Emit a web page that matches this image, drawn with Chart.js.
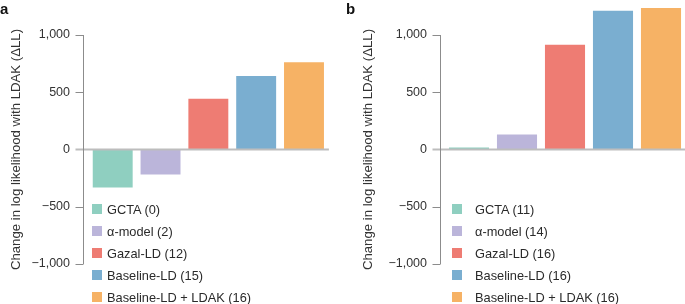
<!DOCTYPE html>
<html>
<head>
<meta charset="utf-8">
<script src="https://cdn.jsdelivr.net/npm/chart.js@4/dist/chart.umd.min.js"></script>
<style>
  body { margin: 0; background: #fff; font-family: 'Liberation Sans', Arial, sans-serif; }
  #wrap { position: relative; width: 685px; height: 304px; overflow: hidden; }
  canvas { position: absolute; top: 0; }
  .panel-label { position: absolute; font-weight: bold; font-size: 15px; color: #111; }
  .legend { position: absolute; font-size: 12.8px; color: #2a2a2a; }
</style>
</head>
<body>
<div id="wrap">
  <canvas id="chartA" width="340" height="304" style="left:0"></canvas>
  <canvas id="chartB" width="345" height="304" style="left:340px"></canvas>
  <div class="panel-label" style="left:0px;top:0px">a</div>
  <div class="panel-label" style="left:346px;top:0px">b</div>
  <div id="legendA" class="legend" style="left:92px;top:198.5px"></div>
  <div id="legendB" class="legend" style="left:452px;top:198.5px"></div>
</div>
<script>
// данные
const categories = ['GCTA', 'α-model', 'Gazal-LD', 'Baseline-LD', 'Baseline-LD + LDAK'];
const countsA = [0, 2, 12, 15, 16];
const countsB = [11, 14, 16, 16, 16];
const valuesA = [-332, -218, 443, 643, 762];
const valuesB = [17, 131, 914, 1211, 1235];
const yTicks = [-1000, -500, 0, 500, 1000];
const colors = ['#8fcfc0', '#bbb5da', '#ee7c73', '#7aaed0', '#f6b265'];

const FONT = "'Liberation Sans', Arial, sans-serif";

// ось Y, риски и нулевая линия
const axisPlugin = {
  id: 'axisLine',
  afterDatasetsDraw(chart, args, opts) {
    const { ctx, chartArea, scales: { y } } = chart;
    const ax = Math.round(chartArea.left - opts.gap) + 0.5;
    ctx.save();
    const y0 = y.getPixelForValue(0);
    ctx.strokeStyle = '#bdbdbd';
    ctx.lineWidth = 2;
    ctx.beginPath();
    ctx.moveTo(ax - 8, y0);
    ctx.lineTo(chartArea.right + 1, y0);
    ctx.stroke();

    ctx.strokeStyle = '#8c8c8c';
    ctx.lineWidth = 1;
    ctx.beginPath();
    ctx.moveTo(ax, y.getPixelForValue(yTicks[0]));
    ctx.lineTo(ax, y.getPixelForValue(yTicks[yTicks.length - 1]));
    y.ticks.forEach((t) => {
      if (t.value === 0) return;
      const py = Math.round(y.getPixelForValue(t.value)) + 0.5;
      ctx.moveTo(ax - 8, py);
      ctx.lineTo(ax, py);
    });
    ctx.stroke();
    ctx.restore();
  },
};

function createLegend(legendId, counts, gap) {
  const box = document.getElementById(legendId);
  categories.forEach((name, i) => {
    const row = document.createElement('div');
    row.style.display = 'flex';
    row.style.alignItems = 'center';
    row.style.height = '21.9px';

    const sq = document.createElement('span');
    sq.style.display = 'inline-block';
    sq.style.width = '10px';
    sq.style.height = '10px';
    sq.style.marginRight = gap + 'px';
    sq.style.backgroundColor = colors[i];

    const txt = document.createElement('span');
    txt.textContent = `${name} (${counts[i]})`;

    row.appendChild(sq);
    row.appendChild(txt);
    box.appendChild(row);
  });
}

function createPanel(canvasId, values, cfg) {
  const ctx = document.getElementById(canvasId).getContext('2d');
  new Chart(ctx, {
    type: 'bar',
    data: {
      labels: categories,
      datasets: [{
        data: values,
        backgroundColor: colors,
        borderWidth: 0,
        barPercentage: 0.835,
        categoryPercentage: 1,
        clip: false,
      }],
    },
    options: {
      responsive: false,
      animation: false,
      devicePixelRatio: 1,
      layout: { padding: { top: 35, bottom: 40, left: 0, right: cfg.right } },
      plugins: {
        legend: { display: false },
        tooltip: { enabled: false },
        axisLine: { gap: cfg.gap },
      },
      scales: {
        x: { display: false },
        y: {
          min: -1000,
          max: 1000,
          afterFit: (scale) => { scale.width = cfg.yWidth; },
          afterBuildTicks: (scale) => { scale.ticks = yTicks.map((v) => ({ value: v })); },
          grid: { display: false, drawTicks: false },
          border: { display: false },
          ticks: {
            padding: cfg.tickPad,
            color: '#333',
            font: { family: FONT, size: 12.5 },
            callback: (v) => (v < 0 ? '\u2212' : '') + Math.abs(v).toLocaleString('en-US'),
          },
          title: {
            display: true,
            text: 'Change in log likelihood with LDAK (ΔLL)',
            color: '#333',
            font: { family: FONT, size: 13.2 },
            padding: { top: cfg.titlePad, bottom: 0 },
          },
        },
      },
    },
    plugins: [axisPlugin],
  });
}

createPanel('chartA', valuesA, { yWidth: 88.8, right: 12.1, gap: 6.3, tickPad: 18.8, titlePad: 8 });
createPanel('chartB', valuesB, { yWidth: 105, right: 0, gap: 5, tickPad: 18, titlePad: 20.5 });
createLegend('legendA', countsA, 5);
createLegend('legendB', countsB, 13);
</script>
</body>
</html>
